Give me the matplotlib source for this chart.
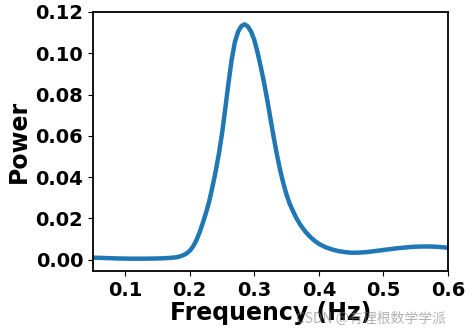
import matplotlib
matplotlib.use('Agg')
import matplotlib.pyplot as plt

# power spectrum
freq = [0.05, 0.07, 0.09, 0.11, 0.13, 0.15, 0.16, 0.17, 0.18, 0.185,
        0.19, 0.195, 0.20, 0.205, 0.21, 0.215, 0.22, 0.225, 0.23, 0.235,
        0.24, 0.245, 0.25, 0.255, 0.26, 0.265, 0.27, 0.275, 0.28, 0.285,
        0.29, 0.295, 0.30, 0.305, 0.31, 0.315, 0.32, 0.325, 0.33, 0.335,
        0.34, 0.345, 0.35, 0.355, 0.36, 0.365, 0.37, 0.375, 0.38, 0.385,
        0.39, 0.395, 0.40, 0.41, 0.42, 0.43, 0.44, 0.45, 0.46, 0.47,
        0.48, 0.49, 0.50, 0.51, 0.52, 0.53, 0.54, 0.55, 0.56, 0.57,
        0.58, 0.59, 0.60]
power = [0.0010, 0.0008, 0.0006, 0.0005, 0.0005, 0.0006, 0.0007, 0.0009, 0.0012, 0.0016,
         0.0022, 0.0030, 0.0043, 0.0063, 0.0092, 0.0130, 0.0175, 0.0225, 0.0280, 0.0350,
         0.0425, 0.0510, 0.0610, 0.0730, 0.0855, 0.0970, 0.1055, 0.1105, 0.1132, 0.1140,
         0.1130, 0.1105, 0.1065, 0.1005, 0.0935, 0.0860, 0.0775, 0.0685, 0.0595, 0.0510,
         0.0435, 0.0370, 0.0315, 0.0270, 0.0235, 0.0203, 0.0176, 0.0153, 0.0133, 0.0116,
         0.0101, 0.0088, 0.0077, 0.0061, 0.0050, 0.0042, 0.0037, 0.0034, 0.0034, 0.0036,
         0.0039, 0.0043, 0.0047, 0.0051, 0.0055, 0.0058, 0.0061, 0.0063, 0.0064, 0.0064,
         0.0063, 0.0061, 0.0058]

xticks = [0.1, 0.2, 0.3, 0.4, 0.5, 0.6]
yticks = [0.00, 0.02, 0.04, 0.06, 0.08, 0.10, 0.12]

fig = plt.figure(figsize=(4.74, 3.33), dpi=100)
ax = fig.add_axes([0.196, 0.186, 0.749, 0.778])
ax.plot(freq, power, color='#1f77b4', linewidth=3.2,
        solid_joinstyle='round', solid_capstyle='round')

ax.set_xlim(0.05, 0.6)
ax.set_ylim(-0.0055, 0.12)
ax.set_xticks(xticks)
ax.set_yticks(yticks)
ax.set_xticklabels(['%.1f' % t for t in xticks], fontsize=14, fontweight='bold')
ax.set_yticklabels(['%.2f' % t for t in yticks], fontsize=14, fontweight='bold')
ax.set_xlabel('Frequency (Hz)', fontsize=17, fontweight='bold', labelpad=1)
ax.set_ylabel('Power', fontsize=17, fontweight='bold', labelpad=3)
for s in ax.spines.values():
    s.set_linewidth(1.3)

# watermark from the source page
fig.text(0.94, 0.02, 'CSDN @有理根数学学派', ha='right', va='bottom', fontsize=10,
         color='gray', alpha=0.6, family=['Noto Sans CJK SC', 'DejaVu Sans'])

fig.savefig('out.png', dpi=100)
